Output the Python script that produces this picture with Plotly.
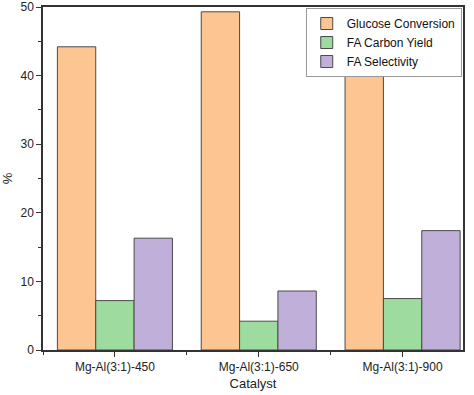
import plotly.graph_objects as go

catalysts = ["Mg-Al(3:1)-450", "Mg-Al(3:1)-650", "Mg-Al(3:1)-900"]
glucose_conversion = [44.2, 49.3, 43.0]
fa_carbon_yield = [7.2, 4.2, 7.5]
fa_selectivity = [16.3, 8.6, 17.4]

series = [
    ("Glucose Conversion", glucose_conversion, "#FCC592"),
    ("FA Carbon Yield", fa_carbon_yield, "#9DDB9F"),
    ("FA Selectivity", fa_selectivity, "#C0AFD9"),
]

xpos = list(range(len(catalysts)))
fig = go.Figure()
for name, vals, color in series:
    fig.add_trace(go.Bar(
        x=xpos, y=vals, name=name,
        marker=dict(color=color, line=dict(color="#4a4a4a", width=1)),
    ))

font = "Liberation Sans, Arial, sans-serif"
fig.update_layout(
    width=474, height=395,
    margin=dict(l=43, r=11, t=7, b=45, autoexpand=False),
    paper_bgcolor="white", plot_bgcolor="white",
    barmode="group", bargap=0.2, bargroupgap=0,
    font=dict(family=font, size=12, color="#222222"),
    showlegend=True,
    legend=dict(
        x=0.997, y=0.997, xanchor="right", yanchor="top",
        bordercolor="#999999", borderwidth=1, bgcolor="white",
        font=dict(size=12, color="#111111"),
        tracegroupgap=0, itemwidth=30,
    ),
    xaxis=dict(
        range=[-0.5, 2.42], automargin=False,
        tickmode="array", tickvals=xpos, ticktext=catalysts,
        ticks="outside", ticklen=5, tickwidth=1, tickcolor="#333333",
        showline=True, linecolor="#333333", linewidth=1.5, mirror=True,
        showgrid=False, zeroline=False,
        minor=dict(tick0=0.5, dtick=1, ticks="outside", ticklen=3, tickcolor="#333333"),
        title=dict(text="Catalyst", font=dict(size=13), standoff=6),
        tickfont=dict(size=12),
    ),
    yaxis=dict(
        range=[0, 50], dtick=10, automargin=False,
        ticks="outside", ticklen=5, tickwidth=1, tickcolor="#333333",
        showline=True, linecolor="#333333", linewidth=1.5, mirror=True,
        showgrid=False, zeroline=False,
        minor=dict(dtick=5, ticks="outside", ticklen=3, tickcolor="#333333"),
        title=dict(text="%", font=dict(size=13), standoff=12),
        tickfont=dict(size=12),
    ),
)

fig.write_html("out.html", config={"displayModeBar": False},
               post_script="document.body.style.margin='0';")
